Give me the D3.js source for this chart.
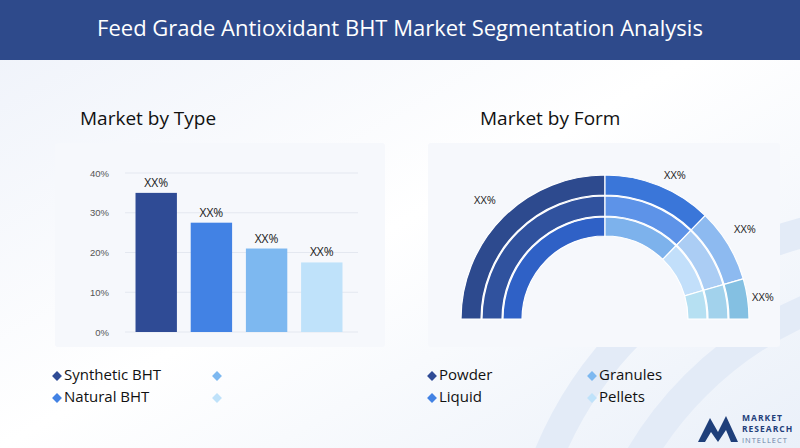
<!DOCTYPE html>
<html><head><meta charset="utf-8">
<script src="https://cdn.jsdelivr.net/npm/d3@7"></script>
<style>body{margin:0;background:#fff}svg{display:block;font-family:"Open Sans",Lato,sans-serif}</style>
</head><body><svg id="c" width="800" height="448"></svg>
<script>
const title = "Feed Grade Antioxidant BHT Market Segmentation Analysis";
const typeCats = ["Synthetic BHT","Natural BHT","",""];
const typeVals = [35,27.5,21,17.5];
const typeColors = ["#2f4b95","#4282e4","#7db8f0","#bfe2fa"];
const yTicks = [0,10,20,30,40];
const formCats = ["Powder","Liquid","Granules","Pellets"];
const formVals = [50,24.5,16.5,9];
const legendColors = ["#2f4b95","#4282e4","#7db8f0","#bfe2fa"];
const ringColors = [
 ["#2d4a8e","#3a76d9","#8dbaf0","#84c0e2"],
 ["#30529e","#5d93e8","#abcdf4","#a2d2ec"],
 ["#2f61c6","#7db2ec","#c2dffa","#b6e0f2"]];

const svg = d3.select("#c");
const defs = svg.append("defs");
const g1 = defs.append("linearGradient").attr("id","bg").attr("x1",0).attr("y1",0).attr("x2",1).attr("y2",1);
g1.append("stop").attr("offset",0).attr("stop-color","#eef2fa");
g1.append("stop").attr("offset",0.5).attr("stop-color","#ffffff");
g1.append("stop").attr("offset",1).attr("stop-color","#eaf0f9");
svg.append("rect").attr("width",800).attr("height",448).attr("fill","url(#bg)");
[[900,600,380],[950,640,360]].forEach(([cx,cy,r])=>svg.append("circle").attr("cx",cx).attr("cy",cy).attr("r",r).attr("fill","none").attr("stroke","#e3ebf7").attr("stroke-width",30));
svg.append("rect").attr("width",800).attr("height",60).attr("fill","#2e4a8b");
svg.append("text").attr("x",400).attr("y",30).attr("text-anchor","middle").attr("dominant-baseline","middle").attr("fill","#fff").attr("font-size",22).text(title);

svg.append("text").attr("x",80).attr("y",125).attr("font-size",19).attr("fill","#111").text("Market by Type");
svg.append("text").attr("x",480).attr("y",125).attr("font-size",19).attr("fill","#111").text("Market by Form");

svg.append("rect").attr("x",55).attr("y",143).attr("width",330).attr("height",204).attr("fill","#f6f8fc").attr("rx",3);
svg.append("rect").attr("x",428).attr("y",143).attr("width",352).attr("height",204).attr("fill","#f6f8fc").attr("rx",3);

const y = d3.scaleLinear().domain([0,40]).range([332,173]);
const x = d3.scaleBand().domain(d3.range(4)).range([130,348]).paddingInner(0.25).paddingOuter(0.1);
const ya = svg.append("g").attr("transform","translate(112,0)").call(d3.axisLeft(y).tickValues(yTicks).tickFormat(d=>d+"%").tickSize(0));
ya.select(".domain").remove();
ya.selectAll("text").attr("fill","#555").attr("font-size",9.5);
svg.append("g").selectAll("line").data(yTicks).join("line").attr("x1",125).attr("x2",358).attr("y1",d=>y(d)).attr("y2",d=>y(d)).attr("stroke","#e4e8f0");
svg.append("g").selectAll("rect").data(typeVals).join("rect")
 .attr("x",(d,i)=>x(i)).attr("width",x.bandwidth()).attr("y",d=>y(d)).attr("height",d=>y(0)-y(d)).attr("fill",(d,i)=>typeColors[i]);
svg.append("g").selectAll("text").data(typeVals).join("text")
 .attr("x",(d,i)=>x(i)+x.bandwidth()/2).attr("y",d=>y(d)-6).attr("text-anchor","middle").attr("font-size",12).attr("fill","#222").text("XX%");

const cx=605, cy=319;
const pie = d3.pie().sort(null).startAngle(-Math.PI/2).endAngle(Math.PI/2);
const arcs = pie(formVals);
const radii=[[124,144],[103,123],[83,102]];
const dg = svg.append("g").attr("transform",`translate(${cx},${cy})`);
radii.forEach(([ri,ro],k)=>{
 const arc=d3.arc().innerRadius(ri).outerRadius(ro);
 dg.append("g").selectAll("path").data(arcs).join("path").attr("d",arc).attr("fill",(d,i)=>ringColors[k][i]).attr("stroke","#fff").attr("stroke-width",1.2);
});
const lblPos=[[-120,-115],[70,-140],[140,-86],[158,-18]];
dg.selectAll("text.l").data(arcs).join("text").attr("class","l")
 .attr("x",(d,i)=>lblPos[i][0]).attr("y",(d,i)=>lblPos[i][1]).attr("text-anchor","middle").attr("font-size",11).attr("fill","#222").text("XX%");

function legend(items, pos){
 const g=svg.append("g");
 items.forEach((t,i)=>{
  const [lx,ly]=pos[i];
  g.append("rect").attr("x",-3.5).attr("y",-3.5).attr("width",7).attr("height",7).attr("transform",`translate(${lx},${ly}) rotate(45)`).attr("fill",legendColors[i]);
  g.append("text").attr("x",lx+7).attr("y",ly).attr("dominant-baseline","middle").attr("font-size",15).attr("fill","#111").text(t);
 });
}
legend(typeCats,[[57,376],[57,398],[217,376],[217,398]]);
legend(formCats,[[432,376],[432,398],[592,376],[592,398]]);

const lg=svg.append("g");
lg.append("path").attr("d","M698 442 L710 418 L718 432 L726 416 L738 442 L731 442 L726 430 L718 442 L711 432 L705 442Z").attr("fill","#1f3f7a");
["MARKET","RESEARCH","INTELLECT"].forEach((t,i)=>lg.append("text").attr("x",742).attr("y",421+i*11).attr("font-size",i==2?7.5:8.5).attr("font-weight",i<2?"bold":"normal").attr("letter-spacing",1).attr("fill",i<2?"#1f3f7a":"#6a7fa6").text(t));
</script></body></html>
